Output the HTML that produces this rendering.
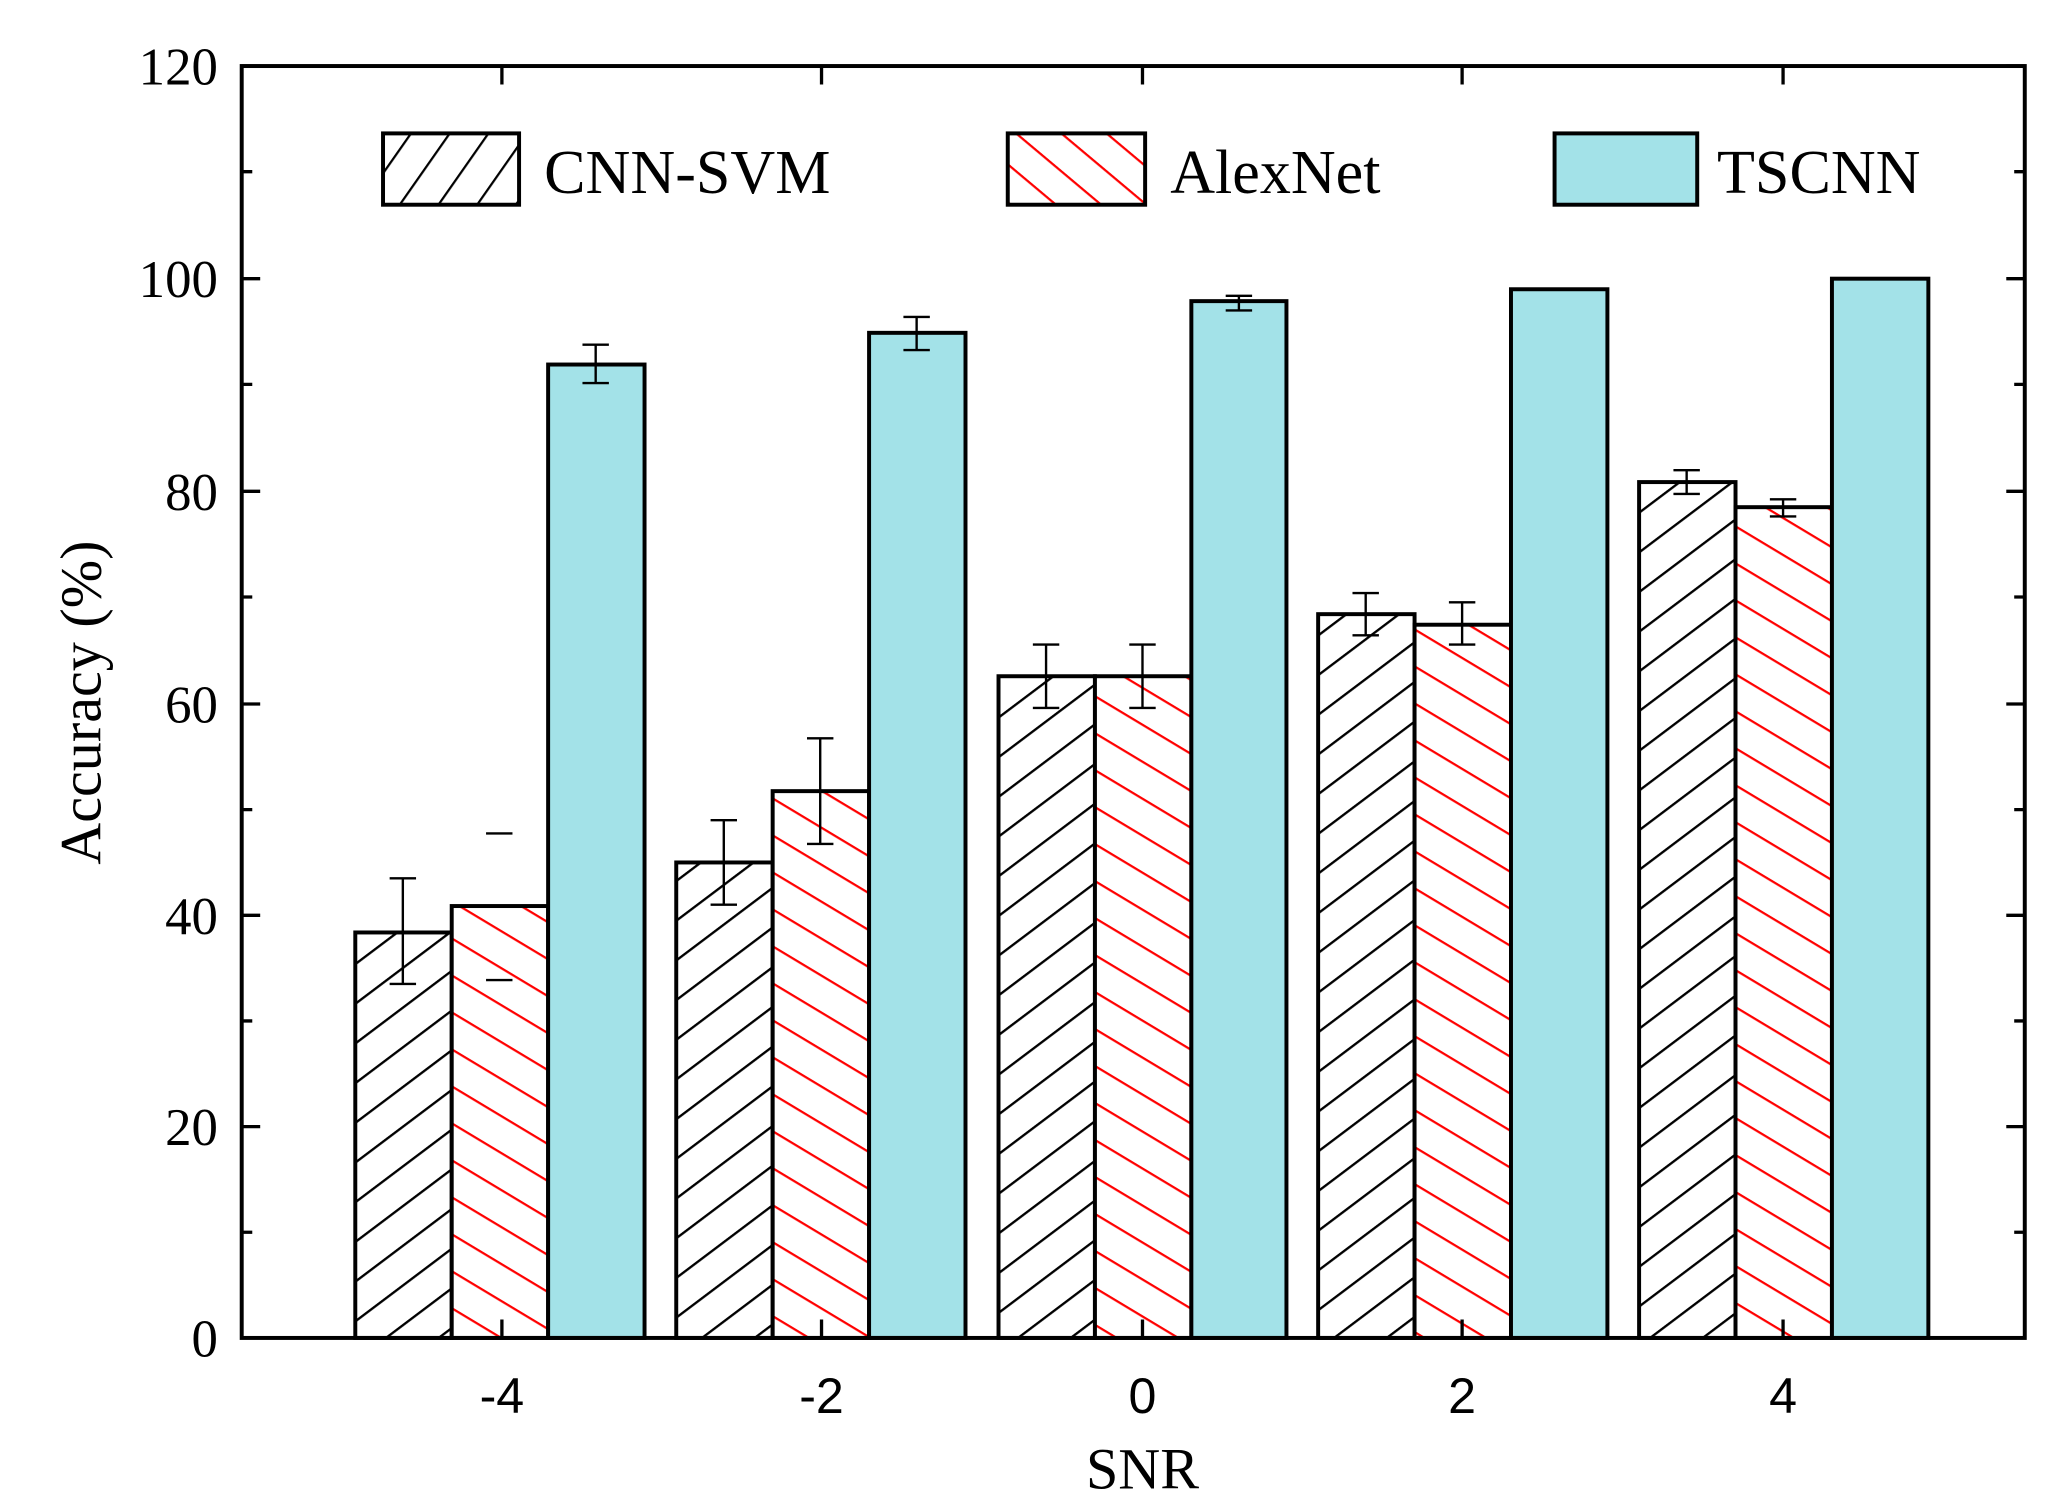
<!DOCTYPE html>
<html><head><meta charset="utf-8"><style>html,body{margin:0;padding:0;background:#fff}svg{display:block}</style></head>
<body>
<svg width="2071" height="1507" viewBox="0 0 1568 1141" preserveAspectRatio="none" xmlns="http://www.w3.org/2000/svg" font-family="Liberation Serif, serif">
<defs>
<pattern id="hb" patternUnits="userSpaceOnUse" width="24" height="24" patternTransform="rotate(-37)">
<rect width="24" height="24" fill="#fff"/><line x1="0" y1="0" x2="24" y2="0" stroke="#000" stroke-width="3.6"/></pattern>
<pattern id="hr" patternUnits="userSpaceOnUse" width="24" height="24" patternTransform="rotate(31)">
<rect width="24" height="24" fill="#fff"/><line x1="0" y1="0" x2="24" y2="0" stroke="#f00" stroke-width="3.4"/></pattern>
<pattern id="lb" patternUnits="userSpaceOnUse" width="24" height="24" patternTransform="rotate(-55)">
<rect width="24" height="24" fill="#fff"/><line x1="0" y1="0" x2="24" y2="0" stroke="#000" stroke-width="3.4"/></pattern>
<pattern id="lr" patternUnits="userSpaceOnUse" width="22" height="22" patternTransform="rotate(40)">
<rect width="22" height="22" fill="#fff"/><line x1="0" y1="0" x2="22" y2="0" stroke="#f00" stroke-width="3.4"/></pattern>
</defs>
<g id="bars" stroke="#000" stroke-width="3">
<rect x="269" y="706" width="73" height="307" fill="url(#hb)"/>
<rect x="342" y="686" width="73" height="327" fill="url(#hr)"/>
<rect x="415" y="276" width="73" height="737" fill="#a3e2e8"/>
<rect x="512" y="653" width="73" height="360" fill="url(#hb)"/>
<rect x="585" y="599" width="73" height="414" fill="url(#hr)"/>
<rect x="658" y="252" width="73" height="761" fill="#a3e2e8"/>
<rect x="756" y="512" width="73" height="501" fill="url(#hb)"/>
<rect x="829" y="512" width="73" height="501" fill="url(#hr)"/>
<rect x="902" y="228" width="72" height="785" fill="#a3e2e8"/>
<rect x="998" y="465" width="73" height="548" fill="url(#hb)"/>
<rect x="1071" y="473" width="73" height="540" fill="url(#hr)"/>
<rect x="1144" y="219" width="73" height="794" fill="#a3e2e8"/>
<rect x="1241" y="365" width="73" height="648" fill="url(#hb)"/>
<rect x="1314" y="384" width="73" height="629" fill="url(#hr)"/>
<rect x="1387" y="211" width="73" height="802" fill="#a3e2e8"/>
</g>
<g stroke="#000" stroke-width="1.8" fill="none">
<path d="M305 745V665M295 745h20M295 665h20"/>
<path d="M368 631h20M368 742h20"/>
<path d="M451 290V261M441 290h20M441 261h20"/>
<path d="M548 685V621M538 685h20M538 621h20"/>
<path d="M621 639V559M611 639h20M611 559h20"/>
<path d="M694 265V240M684 265h20M684 240h20"/>
<path d="M792 536V488M782 536h20M782 488h20"/>
<path d="M865 536V488M855 536h20M855 488h20"/>
<path d="M938 235V224M928 235h20M928 224h20"/>
<path d="M1034 481V449M1024 481h20M1024 449h20"/>
<path d="M1107 488V456M1097 488h20M1097 456h20"/>
<path d="M1277 374V356M1267 374h20M1267 356h20"/>
<path d="M1350 391V378M1340 391h20M1340 378h20"/>
</g>
<rect x="183" y="50" width="1350" height="963" fill="none" stroke="#000" stroke-width="3"/>
<g stroke="#000" stroke-width="2.5">
<path d="M183 50h14M183 211h14M183 372h14M183 533h14M183 693h14M183 853h14M1533 50h-14M1533 211h-14M1533 372h-14M1533 533h-14M1533 693h-14M1533 853h-14"/>
<path d="M183 130h8M183 291h8M183 452h8M183 613h8M183 773h8M183 933h8M1533 130h-8M1533 291h-8M1533 452h-8M1533 613h-8M1533 773h-8M1533 933h-8"/>
<path d="M380 1013v-14M622 1013v-14M865 1013v-14M1107 1013v-14M1350 1013v-14M380 50v14M622 50v14M865 50v14M1107 50v14M1350 50v14"/>
</g>
<g font-size="40" text-anchor="end" fill="#000">
<text x="165" y="1027">0</text><text x="165" y="867">20</text><text x="165" y="707">40</text>
<text x="165" y="547">60</text><text x="165" y="386">80</text><text x="165" y="225">100</text><text x="165" y="64">120</text>
</g>
<g font-size="38" text-anchor="middle" fill="#000" font-family="Liberation Sans, sans-serif">
<text x="380" y="1070">-4</text><text x="622" y="1070">-2</text><text x="865" y="1070">0</text><text x="1107" y="1070">2</text><text x="1350" y="1070">4</text>
</g>
<text x="865" y="1127" font-size="44" text-anchor="middle">SNR</text>
<text transform="translate(76 532) rotate(-90)" font-size="44" text-anchor="middle">Accuracy (%)</text>
<g stroke="#000" stroke-width="3">
<rect x="290" y="101" width="103" height="54" fill="url(#lb)"/>
<rect x="763" y="101" width="104" height="54" fill="url(#lr)"/>
<rect x="1177" y="101" width="108" height="54" fill="#a3e2e8"/>
</g>
<g font-size="47" fill="#000">
<text x="412" y="146">CNN-SVM</text><text x="886" y="146">AlexNet</text><text x="1300" y="146">TSCNN</text>
</g>
</svg>
</body></html>
